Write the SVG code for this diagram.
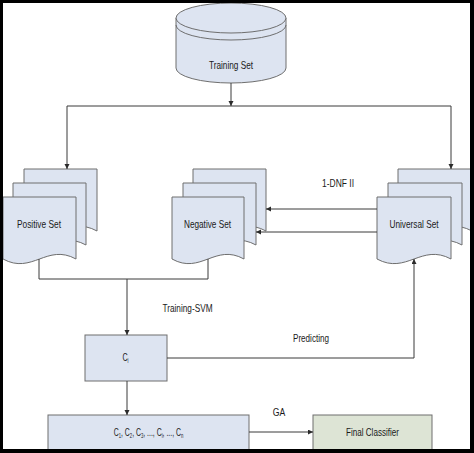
<svg xmlns="http://www.w3.org/2000/svg" width="474" height="453" viewBox="0 0 474 453">
<defs>
<style>
.shape{fill:#dde4f1;stroke:#6e6e6e;stroke-width:1}
.green{fill:#dde4d5;stroke:#6e6e6e;stroke-width:1}
.conn{fill:none;stroke:#3a3a3a;stroke-width:1}
.lbl{font-family:"Liberation Sans Narrow","Liberation Sans",Arial,sans-serif;font-size:11.5px;fill:#1a1a1a;text-anchor:middle}
.sub{font-size:7px}
</style>
<marker id="ah" markerUnits="userSpaceOnUse" markerWidth="6" markerHeight="6" refX="5" refY="2.5" orient="auto">
<path d="M0,0 L5,2.5 L0,5 Z" fill="#2a2a2a"/>
</marker>
</defs>
<rect x="0" y="0" width="474" height="453" fill="#ffffff"/>

<g id="training-set">
<path class="shape" d="M176,18 V68 A55,15 0 0 0 286,68 V18 Z"/>
<ellipse class="shape" cx="231" cy="18" rx="55" ry="15"/>
<path class="conn" style="stroke:#6e6e6e" d="M176,25 A55,15 0 0 0 286,25"/>
<text class="lbl" x="231" y="69" textLength="44" lengthAdjust="spacingAndGlyphs">Training Set</text>
</g>

<g id="positive-set">
<path class="shape" d="M24,169 H97 V231 C67.8,215 53.2,247 24,231 Z"/>
<path class="shape" d="M13,183 H86 V245 C56.8,229 42.2,261 13,245 Z"/>
<path class="shape" d="M3,197 H76 V259 C46.8,243 32.2,275 3,259 Z"/>
<text class="lbl" x="39" y="228" textLength="44" lengthAdjust="spacingAndGlyphs">Positive Set</text>
</g>

<g id="negative-set">
<path class="shape" d="M193,169 H266 V231 C236.8,215 222.2,247 193,231 Z"/>
<path class="shape" d="M183,183 H256 V245 C226.8,229 212.2,261 183,245 Z"/>
<path class="shape" d="M172,197 H244 V259 C215.2,243 200.8,275 172,259 Z"/>
<text class="lbl" x="207.5" y="228" textLength="47" lengthAdjust="spacingAndGlyphs">Negative Set</text>
</g>

<g id="universal-set">
<path class="shape" d="M398,169 H472 V231 C442.4,215 427.6,247 398,231 Z"/>
<path class="shape" d="M388,183 H462 V245 C432.4,229 417.6,261 388,245 Z"/>
<path class="shape" d="M377,197 H451 V259 C421.4,243 406.6,275 377,259 Z"/>
<text class="lbl" x="414" y="228" textLength="49" lengthAdjust="spacingAndGlyphs">Universal Set</text>
</g>

<g id="ci">
<rect class="shape" x="85" y="335" width="82" height="46"/>
<text class="lbl" transform="translate(125.5,361) scale(0.62,1)" x="0" y="0">C<tspan class="sub" dy="2">i</tspan></text>
</g>

<g id="classifiers">
<rect class="shape" x="48" y="415" width="201" height="45"/>
<text class="lbl" transform="translate(148.5,436) scale(0.6,1)" x="0" y="0">C<tspan class="sub" dy="2">1</tspan><tspan dy="-2">, C</tspan><tspan class="sub" dy="2">2</tspan><tspan dy="-2">, C</tspan><tspan class="sub" dy="2">3</tspan><tspan dy="-2">, ..., C</tspan><tspan class="sub" dy="2">i</tspan><tspan dy="-2">, ..., C</tspan><tspan class="sub" dy="2">n</tspan></text>
</g>

<g id="final-classifier">
<rect class="green" x="313" y="415" width="119" height="45"/>
<text class="lbl" x="372.5" y="436" textLength="53" lengthAdjust="spacingAndGlyphs">Final Classifier</text>
</g>

<g id="connectors">
<path class="conn" d="M231,83 V106" marker-end="url(#ah)"/>
<path class="conn" d="M231,106 H67 V169" marker-end="url(#ah)"/>
<path class="conn" d="M231,106 H451 V169" marker-end="url(#ah)"/>
<path class="conn" d="M377,209 H266" marker-end="url(#ah)"/>
<path class="conn" d="M377,232 H256" marker-end="url(#ah)"/>
<path class="conn" d="M39,259 V279 H208 V259"/>
<path class="conn" d="M127,279 V335" marker-end="url(#ah)"/>
<path class="conn" d="M167,358 H414 V259" marker-end="url(#ah)"/>
<path class="conn" d="M127,381 V415" marker-end="url(#ah)"/>
<path class="conn" d="M249,432 H313" marker-end="url(#ah)"/>
</g>

<g id="labels">
<text class="lbl" x="338" y="187" textLength="32" lengthAdjust="spacingAndGlyphs">1-DNF II</text>
<text class="lbl" x="187.5" y="311.5" textLength="50" lengthAdjust="spacingAndGlyphs">Training-SVM</text>
<text class="lbl" x="311" y="341.5" textLength="36" lengthAdjust="spacingAndGlyphs">Predicting</text>
<text class="lbl" x="279" y="416" textLength="12.5" lengthAdjust="spacingAndGlyphs">GA</text>
</g>

<g id="frame" fill="#000000">
<rect x="0" y="0" width="474" height="3"/>
<rect x="0" y="0" width="3" height="453"/>
<rect x="470" y="0" width="4" height="453"/>
<rect x="0" y="449" width="474" height="4"/>
</g>
</svg>
